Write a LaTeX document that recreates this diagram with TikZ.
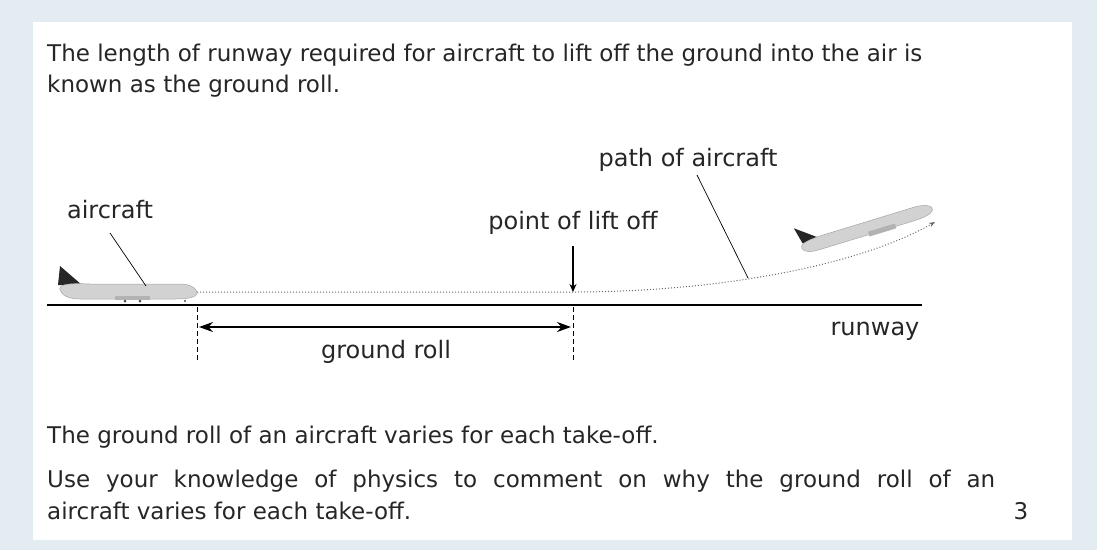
\documentclass[tikz,border=0pt]{standalone}
\usepackage{fontspec}
\setmainfont{DejaVu Sans}
\usetikzlibrary{arrows.meta}
\definecolor{frame}{HTML}{E3ECF1}
\begin{document}
\begin{tikzpicture}[x=1pt,y=-1pt,
  txt/.style={font=\fontsize{23}{27}\selectfont, inner sep=0pt, text=black!85},
  lbl/.style={font=\fontsize{24}{28}\selectfont, inner sep=0pt, text=black!85},
  lead/.style={line width=0.7pt},
  dsh/.style={line width=0.7pt, dash pattern=on 5pt off 3pt},
  fus/.style={fill=gray!35, draw=gray!70, line width=0.5pt},
  tail/.style={fill=black!85}]
\fill[frame] (0,0) rectangle (1097,550);
\fill[white] (33,22) rectangle (1072,540);
\useasboundingbox (0,0) rectangle (1097,550);
% top text
\node[txt, anchor=west] (t1) at (47,55) {The length of runway required for aircraft to lift off the ground into the air is};
\node[txt, anchor=west] (t2) at (47,86) {known as the ground roll.};
% runway
\coordinate (r0) at (47,305); \coordinate (r1) at (922,305);
\draw[line width=2.3pt] (r0) -- (r1);
% plane 1
\fill[tail] (58,285) -- (60,266) -- (82,285) -- cycle;
\draw[fus] (60,290) .. controls (58,284) and (70,283) .. (90,284) -- (180,284) .. controls (192,284) and (198,290) .. (197,294) .. controls (195,298) and (185,299) .. (175,299) -- (80,299) .. controls (68,299) and (62,295) .. (60,290) -- cycle;
\fill[gray!60] (115,296) rectangle (150,300);
\fill[black!70] (125,301) circle (1.5) (140,301) circle (1.5) (185,301) circle (1.2);
% plane 2
\begin{scope}[shift={(866,225)}, rotate=17]
\fill[tail] (-66,-1) -- (-70,-18) -- (-48,-1) -- cycle;
\draw[fus] (-68,4) .. controls (-70,-2) and (-56,-3) .. (-41,-3) -- (51,-3) .. controls (64,-3) and (70,2) .. (68,5) .. controls (66,9) and (56,10) .. (46,10) -- (-51,10) .. controls (-61,10) and (-67,8) .. (-68,4) -- cycle;
\fill[gray!60] (0,7) rectangle (28,12);
\end{scope}
% path
\coordinate (p0) at (197,292); \coordinate (lo) at (573,292); \coordinate (p1) at (935,222);
\draw[line width=1pt, dotted, gray!80!black, -{Stealth[length=6pt]}] (p0) -- (lo) .. controls (720,292) and (860,265) .. (p1);
% lift off
\node[lbl] (lift) at (573,223) {point of lift off};
\coordinate (la) at (573,246);
\draw[line width=1.2pt, -{Stealth[length=8pt,width=7pt]}] (la) -- (lo);
% labels
\node[lbl] (air) at (110,210) {aircraft};
\coordinate (a0) at (110,233); \coordinate (a1) at (146,286);
\draw[lead] (a0) -- (a1);
\node[lbl] (path) at (688,160) {path of aircraft};
\coordinate (q0) at (697,175); \coordinate (q1) at (748,278);
\draw[lead] (q0) -- (q1);
% dashed
\coordinate (d0a) at (197,307); \coordinate (d0b) at (197,360);
\coordinate (d1a) at (573,307); \coordinate (d1b) at (573,360);
\draw[dsh] (d0a) -- (d0b);
\draw[dsh] (d1a) -- (d1b);
\coordinate (g0) at (199,327); \coordinate (g1) at (571,327);
\draw[line width=1.8pt, {Stealth[length=14pt,width=10pt]}-{Stealth[length=14pt,width=10pt]}] (g0) -- (g1);
\node[lbl] (gr) at (386,352) {ground roll};
\node[lbl] (rw) at (875,331) {runway};
% bottom text
\node[txt, anchor=west] (b1) at (47,437) {The ground roll of an aircraft varies for each take-off.};
\node[txt, anchor=west] (b2) at (47,481) {\makebox[948pt][s]{Use your knowledge of physics to comment on why the ground roll of an}};
\node[txt, anchor=west] (b3) at (47,511) {aircraft varies for each take-off.};
\node[txt] (n3) at (1021,511) {3};
\end{tikzpicture}
\end{document}
